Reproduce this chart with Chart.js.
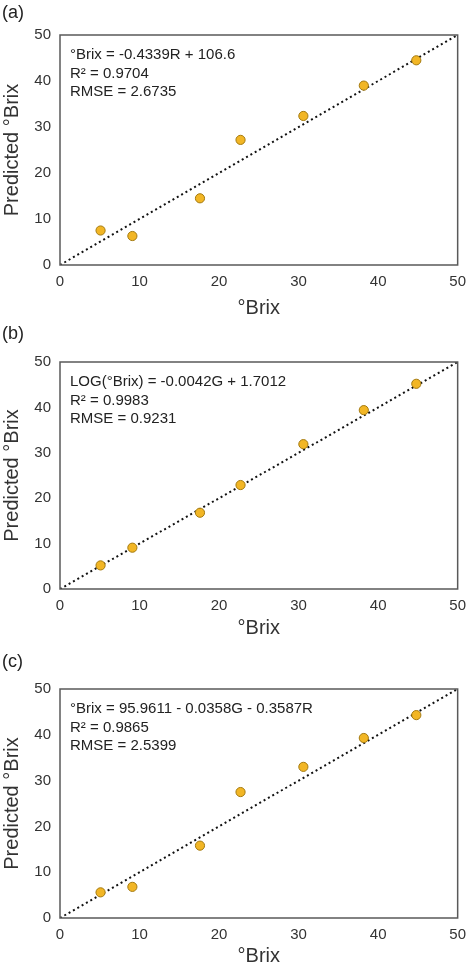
<!DOCTYPE html>
<html><head><meta charset="utf-8">
<script src="https://cdn.jsdelivr.net/npm/chart.js@4"></script>
<style>
body{margin:0;background:#fff;width:474px;height:968px;position:relative;overflow:hidden;font-family:"Liberation Sans",Arial,sans-serif}
.p{position:absolute;left:0;width:474px}
.lab{position:absolute;left:2px;font-size:18px;color:#222}
</style></head><body>
<div class="p" style="top:0;height:320px"><canvas id="ca"></canvas></div>
<div class="p" style="top:320px;height:320px"><canvas id="cb"></canvas></div>
<div class="p" style="top:640px;height:328px"><canvas id="cc"></canvas></div>
<div class="lab" style="top:2px">(a)</div>
<div class="lab" style="top:323px">(b)</div>
<div class="lab" style="top:651px">(c)</div>
<script>
const brix = [5.1, 9.1, 17.6, 22.7, 30.6, 38.2, 44.8];
const predA = [7.5, 6.3, 14.5, 27.2, 32.4, 39.0, 44.5];
const predB = [5.2, 9.1, 16.8, 22.9, 31.9, 39.4, 45.2];
const predC = [5.6, 6.8, 15.8, 27.5, 33.0, 39.3, 44.3];
const textA = ["°Brix = -0.4339R + 106.6", "R² = 0.9704", "RMSE = 2.6735"];
const textB = ["LOG(°Brix) = -0.0042G + 1.7012", "R² = 0.9983", "RMSE = 0.9231"];
const textC = ["°Brix = 95.9611 - 0.0358G - 0.3587R", "R² = 0.9865", "RMSE = 2.5399"];
const axisTicks = [0, 10, 20, 30, 40, 50];
const xTitle = "°Brix", yTitle = "Predicted °Brix";
const FONT = "'Liberation Sans', Arial, sans-serif";

function make(id, pred, lines, padTop, xh, h){
  const el = document.getElementById(id);
  el.width = 474; el.height = h;
  el.style.width = '474px'; el.style.height = h + 'px';
  new Chart(el, {
    data: {datasets: [
      {type:'scatter', data: brix.map((x,i)=>({x, y: pred[i]})), pointRadius:4.6, pointBackgroundColor:'#F2B625', pointBorderColor:'#A47A10', pointBorderWidth:1, order:0},
      {type:'line', data:[{x:0,y:0},{x:50,y:50}], borderColor:'#111', borderWidth:2, borderDash:[2,3], pointRadius:0, order:1}
    ]},
    options: {
      responsive:false, animation:false, devicePixelRatio:1,
      layout:{padding:{top:padTop, right:9, left:0, bottom:0}},
      plugins:{legend:{display:false}, tooltip:{enabled:false}},
      scales:{
        x:{type:'linear', min:0, max:50, grid:{display:false, drawTicks:false}, border:{display:false},
           afterBuildTicks: s => { s.ticks = axisTicks.map(v=>({value:v})); },
           ticks:{color:'#333', font:{family:FONT, size:15}, padding:8},
           title:{display:true, text:xTitle, color:'#333', font:{family:FONT, size:20}, padding:{top:0,bottom:0}},
           afterFit: s => { s.height = xh; }},
        y:{type:'linear', min:0, max:50, grid:{display:false, drawTicks:false}, border:{display:false},
           afterBuildTicks: s => { s.ticks = axisTicks.map(v=>({value:v})); },
           ticks:{color:'#333', font:{family:FONT, size:15}, padding:9},
           title:{display:true, text:yTitle, color:'#333', font:{family:FONT, size:20}, padding:{top:0,bottom:2}},
           afterFit: s => { s.width = 60; }}
      }
    },
    plugins:[{id:'box', afterDraw(c){
      const a=c.chartArea, ctx=c.ctx;
      ctx.save(); ctx.strokeStyle='#595959'; ctx.lineWidth=1.5;
      ctx.strokeRect(a.left, a.top, a.right-a.left, a.bottom-a.top);
      ctx.fillStyle='#222'; ctx.font='15px '+FONT; ctx.textBaseline='alphabetic';
      lines.forEach((t,i)=>ctx.fillText(t, a.left+10, a.top+24+i*18.5));
      ctx.restore();
    }}]
  });
}
make('ca', predA, textA, 35, 55, 320);
make('cb', predB, textB, 42, 51, 320);
make('cc', predC, textC, 49, 50, 328);
</script></body></html>
